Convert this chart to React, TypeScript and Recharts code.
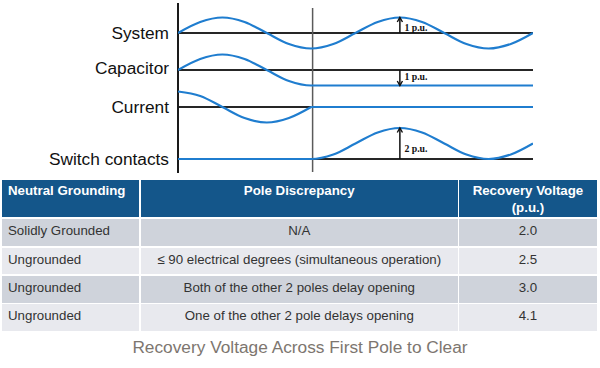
import React from 'react';
import { LineChart, Line, XAxis, YAxis, ReferenceLine } from 'recharts';

// ---------- data ----------
const angles = [0, 45, 90, 135, 180, 225, 270, 315, 360, 405, 450, 495, 540, 585, 630, 675, 720];
const systemPU = [0, 0.71, 1, 0.71, 0, -0.71, -1, -0.71, 0, 0.71, 1, 0.71, 0, -0.71, -1, -0.71, 0];
const capacitorPU = [0, 0.71, 1, 0.71, 0, -0.71, -1, -1, -1, -1, -1, -1, -1, -1, -1, -1, -1];
const currentBeforePU = [1, 0.71, 0, -0.71, -1, -0.71, 0, null, null, null, null, null, null, null, null, null, null];
const currentAfterPU = [null, null, null, null, null, null, 0, 0, 0, 0, 0, 0, 0, 0, 0, 0, 0];
const switchPU = [0, 0, 0, 0, 0, 0, 0, 0.29, 1, 1.71, 2, 1.71, 1, 0.29, 0, 0.29, 1];

const waveLabels = ['System', 'Capacitor', 'Current', 'Switch contacts'];
const interruptAngle = 270;
const separatorAngle = 273;
const arrowAngle = 450;
const arrowValues = [1, -1, 2];
const arrowTexts = ['1 p.u.', '1 p.u.', '2 p.u.'];

const tableHeaders = ['Neutral Grounding', 'Pole Discrepancy', 'Recovery Voltage\n(p.u.)'];
const groundingCol = ['Solidly Grounded', 'Ungrounded', 'Ungrounded', 'Ungrounded'];
const discrepancyCol = [
  'N/A',
  '\u2264 90 electrical degrees (simultaneous operation)',
  'Both of the other 2 poles delay opening',
  'One of the other 2 pole delays opening',
];
const recoveryCol = [2.0, 2.5, 3.0, 4.1];
const caption = 'Recovery Voltage Across First Pole to Clear';

// ---------- layout ----------
const CHART_H = 180;
const PLOT_LEFT = 178;
const PLOT_RIGHT = 533;
const PX_PER_PU = 15.5;
const axisIds = ['sys', 'cap', 'cur', 'sw'];
const baselinePx = [33, 70, 107, 159];
const labelDy = [0, -2, 0, 0];
const arrowAxis = ['sys', 'cap', 'sw'];
const arrowTextDy = [2.5, -1, 4.5];
const BLUE = '#1f7dcf';
const DARK = '#262626';
const FONT = '"Liberation Sans", Arial, sans-serif';

const domainFor = (b: number): [number, number] => [-(CHART_H - b) / PX_PER_PU, b / PX_PER_PU];

const chartData = angles.map((a, i) => ({
  angle: a,
  system: systemPU[i],
  capacitor: capacitorPU[i],
  currentBefore: currentBeforePU[i],
  currentAfter: currentAfterPU[i],
  switchV: switchPU[i],
}));

const colLeft = [2, 140.8, 459.2];
const colWidth = [137.3, 316.9, 137.5];
const HEADER_TOP = 180;
const HEADER_H = 37.3;
const ROW_TOP = 219.4;
const ROW_STEP = 28.2;
const ROW_H = 26.8;

const labelShape = (text: string, dy: number) => (p: any) => (
  <text
    x={p.x1 - 9}
    y={p.y1 + dy}
    textAnchor="end"
    dominantBaseline="central"
    fontFamily={FONT}
    fontSize={17.3}
    fill="#111"
  >
    {text}
  </text>
);

const arrowShape = (text: string, dy: number) => (p: any) => {
  const d = p.y2 < p.y1 ? -1 : 1;
  const mid = (p.y1 + p.y2) / 2;
  return (
    <g>
      <line x1={p.x1} y1={p.y1} x2={p.x2} y2={p.y2} stroke="#111" strokeWidth={1.5} />
      <path
        d={`M${p.x2 - 2.6},${p.y2 - d * 4.5} L${p.x2},${p.y2} L${p.x2 + 2.6},${p.y2 - d * 4.5}`}
        fill="none"
        stroke="#111"
        strokeWidth={1.4}
      />
      <text
        x={p.x2 + 4.5}
        y={mid + dy}
        dominantBaseline="central"
        fontFamily='"Liberation Serif", "Times New Roman", serif'
        fontWeight="bold"
        fontSize={9.8}
        fill="#111"
      >
        {text}
      </text>
    </g>
  );
};

function Waveforms() {
  return (
    <LineChart
      width={600}
      height={CHART_H}
      data={chartData}
      margin={{ top: 0, right: 600 - PLOT_RIGHT, bottom: 0, left: PLOT_LEFT }}
    >
      <XAxis type="number" dataKey="angle" domain={[0, 720]} hide allowDataOverflow />
      {axisIds.map((id, i) => (
        <YAxis key={id} yAxisId={id} type="number" domain={domainFor(baselinePx[i])} hide allowDataOverflow />
      ))}
      <YAxis yAxisId="frame" type="number" domain={[0, CHART_H]} reversed hide allowDataOverflow />

      {/* baselines */}
      <ReferenceLine yAxisId="sys" segment={[{ x: 0, y: 0 }, { x: 720, y: 0 }]} stroke={DARK} strokeWidth={2} ifOverflow="visible" />
      <ReferenceLine yAxisId="cap" segment={[{ x: 0, y: 0 }, { x: 720, y: 0 }]} stroke={DARK} strokeWidth={2} ifOverflow="visible" />
      <ReferenceLine yAxisId="cur" segment={[{ x: 0, y: 0 }, { x: interruptAngle, y: 0 }]} stroke={DARK} strokeWidth={2} ifOverflow="visible" />
      <ReferenceLine yAxisId="sw" segment={[{ x: interruptAngle, y: 0 }, { x: 720, y: 0 }]} stroke={DARK} strokeWidth={2} ifOverflow="visible" />

      {/* frame: left axis and interruption instant */}
      <ReferenceLine yAxisId="frame" segment={[{ x: 0, y: 3 }, { x: 0, y: 173 }]} stroke="#1a1a1a" strokeWidth={2} ifOverflow="visible" />
      <ReferenceLine yAxisId="frame" segment={[{ x: separatorAngle, y: 8 }, { x: separatorAngle, y: 172 }]} stroke="#5a5a5a" strokeWidth={1.5} ifOverflow="visible" />

      {/* left labels */}
      {axisIds.map((id, i) => (
        <ReferenceLine
          key={'lbl' + id}
          yAxisId={id}
          segment={[{ x: 0, y: 0 }, { x: 720, y: 0 }]}
          ifOverflow="visible"
          shape={labelShape(waveLabels[i], labelDy[i])}
        />
      ))}

      <Line yAxisId="sys" type="monotone" dataKey="system" stroke={BLUE} strokeWidth={2.2} dot={false} isAnimationActive={false} />
      <Line yAxisId="cap" type="monotone" dataKey="capacitor" stroke={BLUE} strokeWidth={2.2} dot={false} isAnimationActive={false} />
      <Line yAxisId="cur" type="monotone" dataKey="currentBefore" stroke={BLUE} strokeWidth={2.2} dot={false} isAnimationActive={false} />
      <Line yAxisId="cur" type="monotone" dataKey="currentAfter" stroke={BLUE} strokeWidth={2.2} dot={false} isAnimationActive={false} />
      <Line yAxisId="sw" type="monotone" dataKey="switchV" stroke={BLUE} strokeWidth={2.2} dot={false} isAnimationActive={false} />

      {/* p.u. arrows */}
      {arrowAxis.map((id, i) => (
        <ReferenceLine
          key={'arr' + id}
          yAxisId={id}
          segment={[{ x: arrowAngle, y: 0 }, { x: arrowAngle, y: arrowValues[i] }]}
          ifOverflow="visible"
          shape={arrowShape(arrowTexts[i], arrowTextDy[i])}
        />
      ))}
    </LineChart>
  );
}

function Cell({ left, top, width, height, bg, children, align, header }: any) {
  return (
    <div
      style={{
        position: 'absolute',
        left,
        top,
        width,
        height,
        background: bg,
        display: 'flex',
        alignItems: header ? 'flex-start' : 'center',
        justifyContent: align === 'left' ? 'flex-start' : 'center',
        boxSizing: 'border-box',
        padding: header ? '3.4px 6px 0 6px' : '0 6px 2px 6px',
        fontFamily: FONT,
        fontSize: 13.3,
        lineHeight: '16.6px',
        fontWeight: header ? 'bold' : 'normal',
        color: header ? '#ffffff' : '#333333',
        textAlign: align === 'left' ? 'left' : 'center',
        whiteSpace: 'pre',
      }}
    >
      {children}
    </div>
  );
}

function Table() {
  const rows = groundingCol.map((g, i) => [g, discrepancyCol[i], recoveryCol[i].toFixed(1)]);
  return (
    <>
      {tableHeaders.map((h, c) => (
        <Cell
          key={'h' + c}
          left={colLeft[c]}
          top={HEADER_TOP}
          width={colWidth[c]}
          height={HEADER_H}
          bg="#14568a"
          align={c === 0 ? 'left' : 'center'}
          header
        >
          {h}
        </Cell>
      ))}
      {rows.map((r, i) =>
        r.map((v, c) => (
          <Cell
            key={'r' + i + 'c' + c}
            left={colLeft[c]}
            top={ROW_TOP + i * ROW_STEP}
            width={colWidth[c]}
            height={ROW_H}
            bg={i % 2 === 0 ? '#cfd3db' : '#e8e9ee'}
            align={c === 0 ? 'left' : 'center'}
          >
            {v}
          </Cell>
        ))
      )}
    </>
  );
}

export default function App() {
  return (
    <div
      style={{
        position: 'absolute',
        left: 0,
        top: 0,
        width: 600,
        height: 368,
        background: '#ffffff',
        overflow: 'hidden',
      }}
    >
      <div style={{ position: 'absolute', left: 0, top: 0 }}>
        <Waveforms />
      </div>
      <Table />
      <div
        style={{
          position: 'absolute',
          left: 0,
          top: 336,
          width: 600,
          textAlign: 'center',
          fontFamily: FONT,
          fontSize: 17.3,
          lineHeight: '22px',
          color: '#7d766f',
        }}
      >
        {caption}
      </div>
    </div>
  );
}
